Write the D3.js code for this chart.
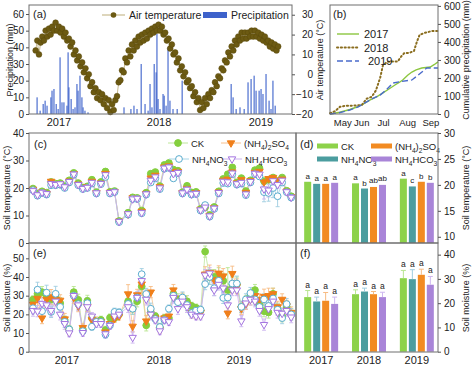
<!DOCTYPE html>
<html>
<head>
<meta charset="utf-8">
<script src="https://cdn.jsdelivr.net/npm/d3@7"></script>
<style>
  body { margin: 0; background: #fff; }
  text { font-family: "Liberation Sans", Arial, sans-serif; fill: #222; }
</style>
</head>
<body>
<svg id="chart" width="474" height="366"></svg>
<script>
// ---------- data ----------
// (a) daily air temperature, one reading every 6 days from day 24 of the record
const airStartDay = 24, airStepDays = 6;
const airTemp = [12,17,10,16,19,17,22,19,23,20,24,22,26,22,24,21,23,19,21,17,
  18,14,16,10,12,7,9,4,6,1,3,-2,0,-6,-4,-9,-7,-12,-9,-13,
  -10,-15,-12,-17,-13,-19,-15,-18,-13,-11,-4,-3,2,1,8,6,12,9,15,12,
  17,14,19,16,20,17,21,18,22,20,23,21,24,22,25,22,24,20,21,17,
  18,13,15,10,11,6,8,2,4,-1,1,-4,-3,-7,-6,-11,-9,-14,-12,-18,
  -14,-17,-12,-15,-10,-12,-8,-9,-4,-6,-1,-2,3,2,7,6,11,9,14,12,
  17,15,19,17,21,18,21,18,21,19,22,19,22,19,21,18,20,17,19,16,
  17,14,16,13,15,12,14];
// (a) precipitation events [day of record, mm]
const rain = [[29,10],[40,2],[51,6],[58,8],[65,5],[79,10],[83,14],[90,15],[98,6],[105,3],
  [112,34],[119,7],[126,7],[137,5],[141,37],[144,16],[152,9],[159,3],[166,4],[173,18],
  [177,14],[184,23],[191,10],[195,4],[202,2],[213,1],[343,4],[368,3],[379,5],[390,3],
  [405,30],[419,6],[430,2],[437,18],[444,4],[452,30],[459,25],[462,48],[466,9],[473,3],
  [484,12],[488,11],[495,5],[502,40],[509,8],[520,3],[535,3],[553,20],[730,18],[737,10],
  [748,3],[762,4],[777,3],[791,19],[802,21],[813,23],[820,14],[831,14],[838,15],[845,12],
  [856,24],[867,8],[874,3],[881,20],[889,5]];
const airYears = ['2017', '2018', '2019'];
const airYearDays = [108, 470, 838];

// (b) cumulative precipitation [days since 1 May, mm]
const cum2017 = [[0,0],[14,10],[28,25],[38,39],[45,50],[57,78],[66,95],[75,117],[84,140],[92,161],
  [98,175],[103,189],[110,215],[116,233],[122,245],[130,255],[142,261],[148,275],[153,289]];
const cum2018 = [[0,5],[7,15],[14,40],[21,45],[35,47],[45,50],[52,85],[59,95],[65,130],[71,200],
  [75,270],[81,290],[96,292],[101,320],[105,337],[113,340],[119,350],[123,400],[127,440],
  [134,450],[144,460],[153,460]];
const cum2019 = [[0,0],[14,8],[28,22],[40,40],[52,67],[60,85],[71,105],[80,135],[89,172],
  [100,180],[116,189],[125,216],[137,255],[153,255]];
const months = ['May', 'Jun', 'Jul', 'Aug', 'Sep'];
const monthDays = [18, 45, 76, 110, 143];

// (c) soil temperature per sampling, 57 samplings
const soilT_CK = [19.8,18.0,18.8,18.3,22.2,21.6,21.8,20.7,22.8,25.5,21.8,20.2,20.6,23.0,18.5,22.2,26.0,18.6,18.9,8.0,
  11.0,16.6,16.4,11.8,18.3,25.2,25.8,20.7,28.4,29.1,26.7,26.3,18.5,20.8,18.4,18.6,12.4,13.0,10.2,13.1,
  18.8,23.3,25.0,27.5,22.0,23.6,18.9,22.8,26.5,27.2,22.5,23.0,23.8,22.5,23.8,19.0,17.0];
const soilT_SO4 = [19.5,17.6,18.5,18.0,22.4,21.2,21.5,20.5,22.5,25.2,21.4,20.0,20.4,22.4,18.3,21.8,25.3,18.4,18.7,7.9,
  10.5,16.4,16.2,11.5,18.0,23.6,24.6,20.4,27.6,28.0,26.0,26.0,18.3,19.8,18.0,18.3,12.2,13.2,10.0,12.8,
  18.5,22.8,23.2,25.8,21.8,23.0,18.4,22.6,25.6,26.0,22.2,23.4,23.8,22.8,23.2,18.8,16.8];
const soilT_NO3 = [19.2,17.2,18.2,17.6,21.0,21.0,21.2,20.0,22.0,24.8,21.0,19.6,20.0,21.6,18.0,21.4,24.0,18.0,18.5,7.6,
  10.3,16.0,16.0,10.8,17.6,22.0,23.5,19.6,27.0,27.3,23.5,25.4,18.0,19.2,17.6,17.8,11.8,13.8,9.6,12.4,
  18.0,21.8,21.6,25.0,21.2,21.6,17.4,22.0,25.0,24.2,18.5,18.2,20.0,17.0,22.0,18.5,16.5];
const soilT_HCO3 = [19.0,17.5,18.4,17.9,21.6,21.2,21.5,20.4,22.3,25.0,21.2,19.8,20.2,22.0,18.2,21.6,24.8,18.3,18.6,7.8,
  10.6,16.0,16.2,11.0,17.8,22.8,24.0,20.0,27.2,27.6,25.2,25.6,18.2,19.5,17.8,18.0,12.0,13.0,9.8,12.6,
  18.3,22.4,22.2,25.4,21.5,22.0,17.8,22.3,25.3,25.0,19.6,19.2,22.6,21.2,22.8,18.6,16.6];
const soilT_NO3_sd = [0.5,0.5,0.5,0.5,0.6,0.5,0.5,0.5,0.5,0.6,0.5,0.5,0.5,0.6,0.5,0.5,0.8,0.5,0.5,0.5,
  0.6,0.6,0.5,0.6,0.5,0.8,0.8,0.5,0.6,0.6,0.8,0.6,0.5,0.5,0.5,0.5,0.5,0.6,0.5,0.5,
  0.5,0.6,0.8,0.6,0.5,0.6,0.5,0.5,0.6,0.8,3.5,3.0,3.5,3.8,0.6,0.5,0.5];
const soilT_HCO3_sd = [0.5,0.5,0.5,0.5,0.5,0.5,0.5,0.5,0.5,0.5,0.5,0.5,0.5,0.5,0.5,0.5,0.6,0.5,0.5,0.5,
  0.5,0.5,0.5,0.5,0.5,0.6,0.6,0.5,0.5,0.5,0.6,0.5,0.5,0.5,0.5,0.5,0.5,0.5,0.5,0.5,
  0.5,0.5,0.6,0.5,0.5,0.5,0.5,0.5,0.5,0.6,3.6,2.5,1.0,1.2,0.5,0.5,0.5];

// (e) soil moisture per sampling
const moist_CK = [27.9,31,31.9,30,28,29,26,17,12,31.9,27.8,12,27.2,18,16,17,11.6,18.2,18,20,
  27,23,27,35,14.1,21,19,13,18,18,31,28,28,27,24.5,23.5,22,53.6,40,40,
  41,38,33,36,36,24,27,30,33,25,21.7,21,31,23,19,24,20];
const moist_SO4 = [25.4,28.5,18,28,29.3,28,27.5,17.5,11,29,24.4,12.9,24.3,17,16.6,16,10.5,15,17.7,19,
  30.9,13.6,30.4,36.2,16.4,31.9,18,12,18,19,33,27,28.5,25,21,20.5,21,41.5,42.4,38.5,
  42,40.5,20.6,41.8,35,23,25.6,28,30,28,29.5,30,31,24,28,24.5,21];
const moist_NO3 = [23.3,33.2,21.7,31.6,21.3,31,24,16,11.9,30,25.5,11,26,13.4,16,16,9.2,14.1,21.3,21,
  25.6,23,29,41.5,30.9,23,17.5,13.2,17,23,30,26.5,29,25,20.7,22,22.5,36.2,40,34,
  38,28.8,29,36.5,36.5,24,28,31.4,28,24,28,24.5,28.5,22.5,18,25.5,20];
const moist_HCO3 = [22,21.7,25.8,25,22,27,20,15,10,30,25,10.2,24,19,15,15,9.5,14,19,20,
  24,7.6,29,38,28,20,17,11.1,17,16,29,23,27,24,20,19,19,41,42,33,
  36,34,25,33,33,16.4,26,28,27,22,14.5,23,27,21,20.5,22,18.5];
const moist_CK_sd = [2,3,3,3,2,3,3,2,2,3,3,2,3,2,2,2,2,2,2,2,3,3,3,4,3,3,2,2,2,2,
  3,3,3,3,2,2,2,3,4,4,4,4,12,4,4,3,3,3,3,3,3,3,3,3,3,3,3];
const moist_SO4_sd = [3,5,3,3,4,3,3,3,2,3,3,2,3,2,2,2,2,2,2,2,5,3,3,6,3,3,2,2,2,2,
  3,3,3,3,3,3,3,4,4,5,4,4,3,4,4,3,3,3,4,3,4,4,3,3,3,3,3];
const moist_NO3_sd = [3,4,3,4,3,4,3,3,2,3,3,2,3,2,2,2,2,2,2,2,3,3,3,3,3,3,2,2,2,2,
  3,3,3,3,2,2,2,3,4,4,4,3,3,4,4,3,3,3,3,3,3,3,3,3,3,3,3];
const moist_HCO3_sd = [3,3,3,3,3,3,3,3,2,3,3,2,3,2,2,2,2,2,2,2,3,3,3,3,3,3,2,2,2,2,
  3,3,3,3,2,2,2,3,3,3,3,3,3,3,3,3,3,3,3,3,3,3,3,3,3,3,3];
// sampling order; the winter 2017/18 break leaves one empty slot
const sampleNo = d3.range(57).map(i => i < 20 ? i : i + 1);
const seasonYears = ['2017', '2018', '2019'];
const seasonYearPos = [7.5, 27.8, 45.5];

// (d) mean soil temperature, (f) mean soil moisture, order of years
const years = ['2017', '2018', '2019'];
const barT_CK = [20.6, 20.3, 21.2], barT_NO3 = [20.2, 19.3, 19.7];
const barT_SO4 = [20.2, 19.6, 20.6], barT_HCO3 = [20.4, 20.0, 20.4];
const lettersT_CK = ['a', 'a', 'a'], lettersT_NO3 = ['a', 'b', 'c'];
const lettersT_SO4 = ['a', 'ab', 'b'], lettersT_HCO3 = ['a', 'ab', 'b'];
const barM_CK = [22.5, 23.7, 30.3], barM_NO3 = [20.7, 24.8, 29.9];
const barM_SO4 = [21.0, 23.7, 31.7], barM_HCO3 = [19.7, 22.5, 27.6];
const sdM_CK = [2.7, 1.8, 3.2], sdM_NO3 = [1.8, 1.4, 3.9];
const sdM_SO4 = [3.4, 1.1, 2.3], sdM_HCO3 = [2.8, 2.0, 3.4];

// ---------- styles ----------
const FONT = '"Liberation Sans", Arial, sans-serif';
const series = {
  CK:   {label: 'CK', sym: 'circle', fill: '#84cf3e', stroke: '#84cf3e', line: '#bde69a', bar: '#8dd24a', err: '#b8e58f'},
  SO4:  {label: '(NH{4}){2}SO{4}', sym: 'tri', fill: '#f07f1a', stroke: '#f07f1a', line: '#f8c08c', bar: '#f28b22', err: '#f7bb82'},
  NO3:  {label: 'NH{4}NO{3}', sym: 'circle', fill: '#fff', stroke: '#5aacce', line: '#a6d4e6', bar: '#4b9d9f', err: '#9fcde0'},
  HCO3: {label: 'NH{4}HCO{3}', sym: 'tri', fill: '#fff', stroke: '#a474e0', line: '#cbb0ef', bar: '#a985d8', err: '#cdb6ef'}
};
const barOrder = ['CK', 'NO3', 'SO4', 'HCO3'];

const svg = d3.select('#chart');

function styleAxis(g) {
  g.attr('font-family', FONT);
  g.select('.domain').remove();
  g.selectAll('.tick line').attr('stroke', '#555');
  g.selectAll('.tick text').attr('font-size', 10).attr('fill', '#222');
}

function frame(x0, y0, x1, y1) {
  svg.append('rect').attr('x', x0).attr('y', y0)
    .attr('width', x1 - x0).attr('height', y1 - y0)
    .attr('fill', 'none').attr('stroke', '#6e6e6e').attr('stroke-width', 1);
}

function label(x, y, txt, size, anchor, rot) {
  const t = svg.append('text').attr('font-size', size || 10)
    .attr('text-anchor', anchor || 'start').text(txt);
  if (rot) t.attr('transform', `translate(${x},${y}) rotate(${rot})`);
  else t.attr('x', x).attr('y', y);
  return t;
}

// text with {n} subscripts
function chemText(x, y, str, size) {
  const fs = size || 10;
  const t = svg.append('text').attr('x', x).attr('y', y).attr('font-size', fs);
  let wasSub = false;
  str.split(/(\{\d\})/).filter(s => s).forEach(part => {
    const sub = part[0] === '{';
    t.append('tspan')
      .attr('font-size', sub ? fs * 0.7 : fs)
      .attr('dy', sub ? 3 : (wasSub ? -3 : 0))
      .text(sub ? part.slice(1, -1) : part);
    wasSub = sub;
  });
}

const circlePath = d3.symbol().type(d3.symbolCircle).size(36)();
const triPath = d3.symbol().type(d3.symbolTriangle).size(24)();
function marker(g, s, x, y) {
  g.append('path').attr('d', s.sym === 'circle' ? circlePath : triPath)
    .attr('transform', `translate(${x},${y})` + (s.sym === 'tri' ? ' rotate(180)' : ''))
    .attr('fill', s.fill).attr('stroke', s.stroke).attr('stroke-width', 1);
}

// ---------- (a) air temperature and precipitation ----------
const xA = d3.scaleLinear().domain([0, 950]).range([29, 292]);
const yRain = d3.scaleLinear().domain([0, 65.4]).range([114, 5]);
const yAir = d3.scaleLinear().domain([-20, 34.9]).range([114, 5]);

const gA = svg.append('g');
gA.selectAll('.rain').data(rain).join('rect')
  .attr('class', 'rain')
  .attr('x', d => xA(d[0]) - 0.5).attr('width', 1.1)
  .attr('y', d => yRain(d[1])).attr('height', d => yRain(0) - yRain(d[1]))
  .attr('fill', '#3d62cb');

const airPts = airTemp.map((t, i) => [airStartDay + i * airStepDays, t]);
gA.append('path').datum(airPts)
  .attr('d', d3.line().x(d => xA(d[0])).y(d => yAir(d[1])))
  .attr('fill', 'none').attr('stroke', '#c9bb8f').attr('stroke-width', 1);
gA.selectAll('.air').data(airPts).join('circle')
  .attr('class', 'air')
  .attr('cx', d => xA(d[0])).attr('cy', d => yAir(d[1])).attr('r', 2.9)
  .attr('fill', '#6c5a12').attr('stroke', '#58490c').attr('stroke-width', 0.5);

frame(29, 5, 292, 114);
svg.append('g').attr('transform', 'translate(29,0)')
  .call(d3.axisLeft(yRain).tickValues(d3.range(0, 61, 10)).tickSize(3).tickPadding(2))
  .call(styleAxis);
svg.append('g').attr('transform', 'translate(292,0)')
  .call(d3.axisRight(yAir).tickValues(d3.range(-20, 31, 10)).tickSize(3))
  .call(styleAxis)
  .call(g => g.selectAll('.tick text').attr('text-anchor', 'end').attr('x', 21));
airYears.forEach((yr, i) => label(xA(airYearDays[i]), 126, yr, 11, 'middle'));
label(13, 60, 'Precipitation (mm)', 9, 'middle', -90);
label(323, 60, 'Air temperature (°C)', 9, 'middle', -90);
label(33, 18, '(a)', 11);
// legend (a)
svg.append('line').attr('x1', 102).attr('x2', 125).attr('y1', 15).attr('y2', 15)
  .attr('stroke', '#c9bb8f').attr('stroke-width', 1.2);
svg.append('circle').attr('cx', 113.5).attr('cy', 15).attr('r', 2.8).attr('fill', '#6c5a12');
label(129, 19, 'Air temperature', 10.5);
svg.append('rect').attr('x', 203).attr('y', 12).attr('width', 24).attr('height', 6).attr('fill', '#3d62cb');
label(231, 19, 'Precipitation', 10.5);

// ---------- (b) cumulative precipitation ----------
const xB = d3.scaleLinear().domain([0, 153]).range([330, 438]);
const yB = d3.scaleLinear().domain([0, 605]).range([114, 5]);
const lineB = d3.line().x(d => xB(d[0])).y(d => yB(d[1]));
const cumSeries = [
  {year: '2017', data: cum2017, color: '#8cc63f', dash: null, w: 1.4},
  {year: '2018', data: cum2018, color: '#8a6d1e', dash: '1.2,2.6', w: 2},
  {year: '2019', data: cum2019, color: '#4a6bcb', dash: '6,3', w: 1.4}
];
cumSeries.forEach((s, i) => {
  const cap = s.dash === '1.2,2.6' ? 'round' : 'butt';
  svg.append('path').datum(s.data).attr('d', lineB)
    .attr('fill', 'none').attr('stroke', s.color).attr('stroke-width', s.w)
    .attr('stroke-dasharray', s.dash).attr('stroke-linecap', cap);
  const ly = 34 + i * 13.5;
  svg.append('line').attr('x1', 337).attr('x2', 359).attr('y1', ly).attr('y2', ly)
    .attr('stroke', s.color).attr('stroke-width', s.w).attr('stroke-dasharray', s.dash)
    .attr('stroke-linecap', cap);
  label(i === 2 ? 368 : 364, ly + 4, s.year, 11);
});
frame(330, 5, 438, 114);
svg.append('g').attr('transform', 'translate(438,0)')
  .call(d3.axisRight(yB).tickValues(d3.range(0, 601, 100)).tickSize(3).tickPadding(3))
  .call(styleAxis);
months.forEach((m, i) => label(xB(monthDays[i]), 126, m, 9.5, 'middle'));
label(469, 60, 'Cumulative precipitation (mm)', 9, 'middle', -90);
label(333, 18, '(b)', 11);

// ---------- (c) soil temperature and (e) soil moisture ----------
const xS = d3.scaleLinear().domain([-0.88, 58.06]).range([29, 296]);
const yC = d3.scaleLinear().domain([0, 40]).range([243, 133]);
const yE = d3.scaleLinear().domain([0, 58.2]).range([351.7, 243]);

function drawTimeSeries(yScale, sets) {
  const g = svg.append('g');
  sets.forEach(([key, vals]) => {
    g.append('path').datum(vals)
      .attr('d', d3.line().x((d, i) => xS(sampleNo[i])).y(d => yScale(d)))
      .attr('fill', 'none').attr('stroke', series[key].line).attr('stroke-width', 0.8);
  });
  sets.forEach(([key, vals, sds]) => {
    if (!sds) return;
    vals.forEach((v, i) => {
      const x = xS(sampleNo[i]), sd = sds[i] || 0;
      const y0 = yScale(v - sd), y1 = yScale(v + sd);
      g.append('line').attr('x1', x).attr('x2', x).attr('y1', y0).attr('y2', y1)
        .attr('stroke', series[key].err).attr('stroke-width', 0.9);
      [y0, y1].forEach(yy => g.append('line').attr('x1', x - 2).attr('x2', x + 2)
        .attr('y1', yy).attr('y2', yy).attr('stroke', series[key].err).attr('stroke-width', 0.9));
    });
  });
  sets.forEach(([key, vals]) => {
    vals.forEach((v, i) => marker(g, series[key], xS(sampleNo[i]), yScale(v)));
  });
}

drawTimeSeries(yC, [
  ['CK', soilT_CK], ['SO4', soilT_SO4],
  ['NO3', soilT_NO3, soilT_NO3_sd], ['HCO3', soilT_HCO3, soilT_HCO3_sd]
]);
drawTimeSeries(yE, [
  ['CK', moist_CK, moist_CK_sd], ['SO4', moist_SO4, moist_SO4_sd],
  ['NO3', moist_NO3, moist_NO3_sd], ['HCO3', moist_HCO3, moist_HCO3_sd]
]);

// legend (c)
const legC = svg.append('g');
[['CK', 178, 143], ['SO4', 231, 143], ['NO3', 179, 159], ['HCO3', 232, 159]].forEach(([k, x, y]) => {
  legC.append('line').attr('x1', x - 10).attr('x2', x + 10).attr('y1', y).attr('y2', y)
    .attr('stroke', series[k].line).attr('stroke-width', 1);
  marker(legC, series[k], x, y);
  chemText(x + 13, y + 4, series[k].label, 9.5);
});

// ---------- (d) and (f) bars ----------
const xG = d3.scaleBand().domain(years).range([297, 441]).paddingInner(0.29).paddingOuter(0.15);
const xT = d3.scaleBand().domain(barOrder).range([0, xG.bandwidth()]).paddingInner(0.22);
const yD = d3.scaleLinear().domain([8.8, 30]).range([243, 133]);
const yF = d3.scaleLinear().domain([0, 44.8]).range([351.7, 243]);

const tempBars = {CK: barT_CK, NO3: barT_NO3, SO4: barT_SO4, HCO3: barT_HCO3};
const tempLetters = {CK: lettersT_CK, NO3: lettersT_NO3, SO4: lettersT_SO4, HCO3: lettersT_HCO3};
const moistBars = {CK: barM_CK, NO3: barM_NO3, SO4: barM_SO4, HCO3: barM_HCO3};
const moistSd = {CK: sdM_CK, NO3: sdM_NO3, SO4: sdM_SO4, HCO3: sdM_HCO3};

const gD = svg.append('g');
years.forEach((yr, j) => {
  barOrder.forEach(k => {
    const x = xG(yr) + xT(k), v = tempBars[k][j];
    gD.append('rect').attr('x', x).attr('width', xT.bandwidth())
      .attr('y', yD(v)).attr('height', yD.range()[0] - yD(v)).attr('fill', series[k].bar);
    const lt = tempLetters[k][j];
    gD.append('text').attr('x', x + xT.bandwidth() / 2).attr('y', yD(v) - (lt.length > 1 ? 4 : 3))
      .attr('text-anchor', 'middle').attr('font-size', 8).text(lt);

    const m = moistBars[k][j], sd = moistSd[k][j], cx = x + xT.bandwidth() / 2;
    gD.append('rect').attr('x', x).attr('width', xT.bandwidth())
      .attr('y', yF(m)).attr('height', yF(0) - yF(m)).attr('fill', series[k].bar);
    gD.append('line').attr('x1', cx).attr('x2', cx).attr('y1', yF(m)).attr('y2', yF(m + sd))
      .attr('stroke', series[k].err).attr('stroke-width', 1);
    gD.append('line').attr('x1', cx - 2.5).attr('x2', cx + 2.5).attr('y1', yF(m + sd)).attr('y2', yF(m + sd))
      .attr('stroke', series[k].err).attr('stroke-width', 1);
    gD.append('text').attr('x', cx).attr('y', yF(m + sd) - 3)
      .attr('text-anchor', 'middle').attr('font-size', 8.5).text('a');
  });
});

// legend (d)
[['CK', 317, 146], ['SO4', 371, 146], ['NO3', 317, 159], ['HCO3', 371, 159]].forEach(([k, x, y]) => {
  svg.append('rect').attr('x', x).attr('y', y - 2.5).attr('width', 21).attr('height', 5).attr('fill', series[k].bar);
  chemText(x + 24, y + 4, series[k].label, 9.5);
});

// ---------- frames, axes, labels for lower panels ----------
frame(29, 133, 296, 243);
frame(296, 133, 438, 243);
frame(29, 243, 296, 352);
frame(296, 243, 438, 352);

svg.append('g').attr('transform', 'translate(29,0)')
  .call(d3.axisLeft(yC).tickValues(d3.range(0, 41, 10)).tickSize(3).tickPadding(2))
  .call(styleAxis);
svg.append('g').attr('transform', 'translate(29,0)')
  .call(d3.axisLeft(yE).tickValues(d3.range(0, 51, 10)).tickSize(3).tickPadding(2))
  .call(styleAxis);
svg.append('g').attr('transform', 'translate(438,0)')
  .call(d3.axisRight(yD).tickValues(d3.range(10, 31, 5)).tickSize(3).tickPadding(3))
  .call(styleAxis);
svg.append('g').attr('transform', 'translate(438,0)')
  .call(d3.axisRight(yF).tickValues(d3.range(0, 41, 10)).tickSize(3).tickPadding(3))
  .call(styleAxis);

seasonYears.forEach((yr, i) => label(xS(seasonYearPos[i]), 364, yr, 11, 'middle'));
years.forEach(yr => label(xG(yr) + xG.bandwidth() / 2, 364, yr, 11, 'middle'));

label(10, 188, 'Soil  temperature (°C)', 9, 'middle', -90);
label(10, 298, 'Soil  moisture (%)', 9, 'middle', -90);
label(469, 188, 'Soil  temperature (°C)', 9, 'middle', -90);
label(469, 298, 'Soil  moisture (%)', 9, 'middle', -90);
label(34, 148, '(c)', 11);
label(300, 148, '(d)', 11);
label(33, 257, '(e)', 11);
label(300, 257, '(f)', 11);
</script>
</body>
</html>
